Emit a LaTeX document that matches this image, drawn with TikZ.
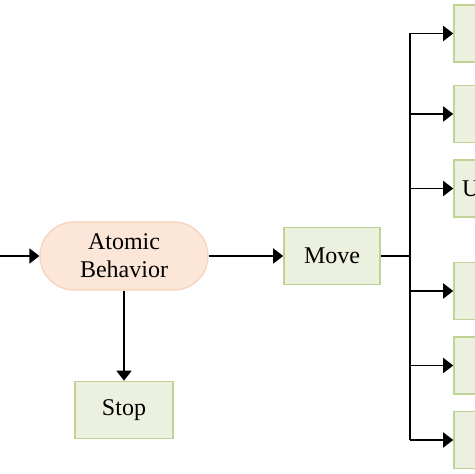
\documentclass[tikz,border=0pt]{standalone}
\usepackage{fontspec}
\setmainfont{Liberation Serif}
\usetikzlibrary{positioning, arrows.meta}
\definecolor{peachfill}{HTML}{FCE6D8}
\definecolor{peachline}{HTML}{F6D2BA}
\definecolor{greenfill}{HTML}{EBF1DE}
\definecolor{greenline}{HTML}{BFD395}

\begin{document}
\begin{tikzpicture}
    [
        x=0.5pt, y=-0.5pt, on grid, auto,
        >={Triangle[length=5pt, width=7.5pt]},
        link/.style={line width=0.9pt, color=black},
        pill_node/.style={rectangle, rounded corners=17pt, draw=peachline, fill=peachfill, line width=0.6pt, minimum width=84pt, minimum height=34pt, align=center, font=\fontsize{12}{14}\selectfont},
        green_node/.style={rectangle, draw=greenline, fill=greenfill, line width=0.8pt, minimum width=48pt, minimum height=28.5pt, font=\fontsize{12}{14}\selectfont},
    ]
        \useasboundingbox (0,0) rectangle (474,474);
        \node[pill_node] (atomic) at (124,256) {Atomic\\Behavior} ;
        \node[green_node] (move) [right = 104pt of atomic] {Move} ;
        \node[green_node, minimum width=49pt] (stop) [below = 77pt of atomic] {Stop} ;
        \node[green_node] (r1) [above right = 111.25pt and 85pt of move] {} ;
        \node[green_node] (r2) [above right = 71pt and 85pt of move] {} ;
        \node[green_node, text width=40pt, inner xsep=4pt, align=left] (r3) [above right = 33.75pt and 85pt of move] {U} ;
        \node[green_node] (r4) [below right = 17.5pt and 85pt of move] {} ;
        \node[green_node] (r5) [below right = 54.75pt and 85pt of move] {} ;
        \node[green_node] (r6) [below right = 92pt and 85pt of move] {} ;
        \coordinate (start) at (0,256) ;
        \coordinate (bus) at (410,256) ;
        \draw[link, ->] (start) -- (atomic) ;
        \draw[link, ->] (atomic) -- (move) ;
        \draw[link, ->] (atomic) -- (stop) ;
        \draw[link] (move) -- (bus) ;
        \draw[link] (bus |- r1.west) -- (bus |- r6.west) ;
        \foreach \i in {1,...,6}
            \draw[link, ->] (bus |- r\i.west) -- (r\i.west) ;
    \end{tikzpicture}
\end{document}
